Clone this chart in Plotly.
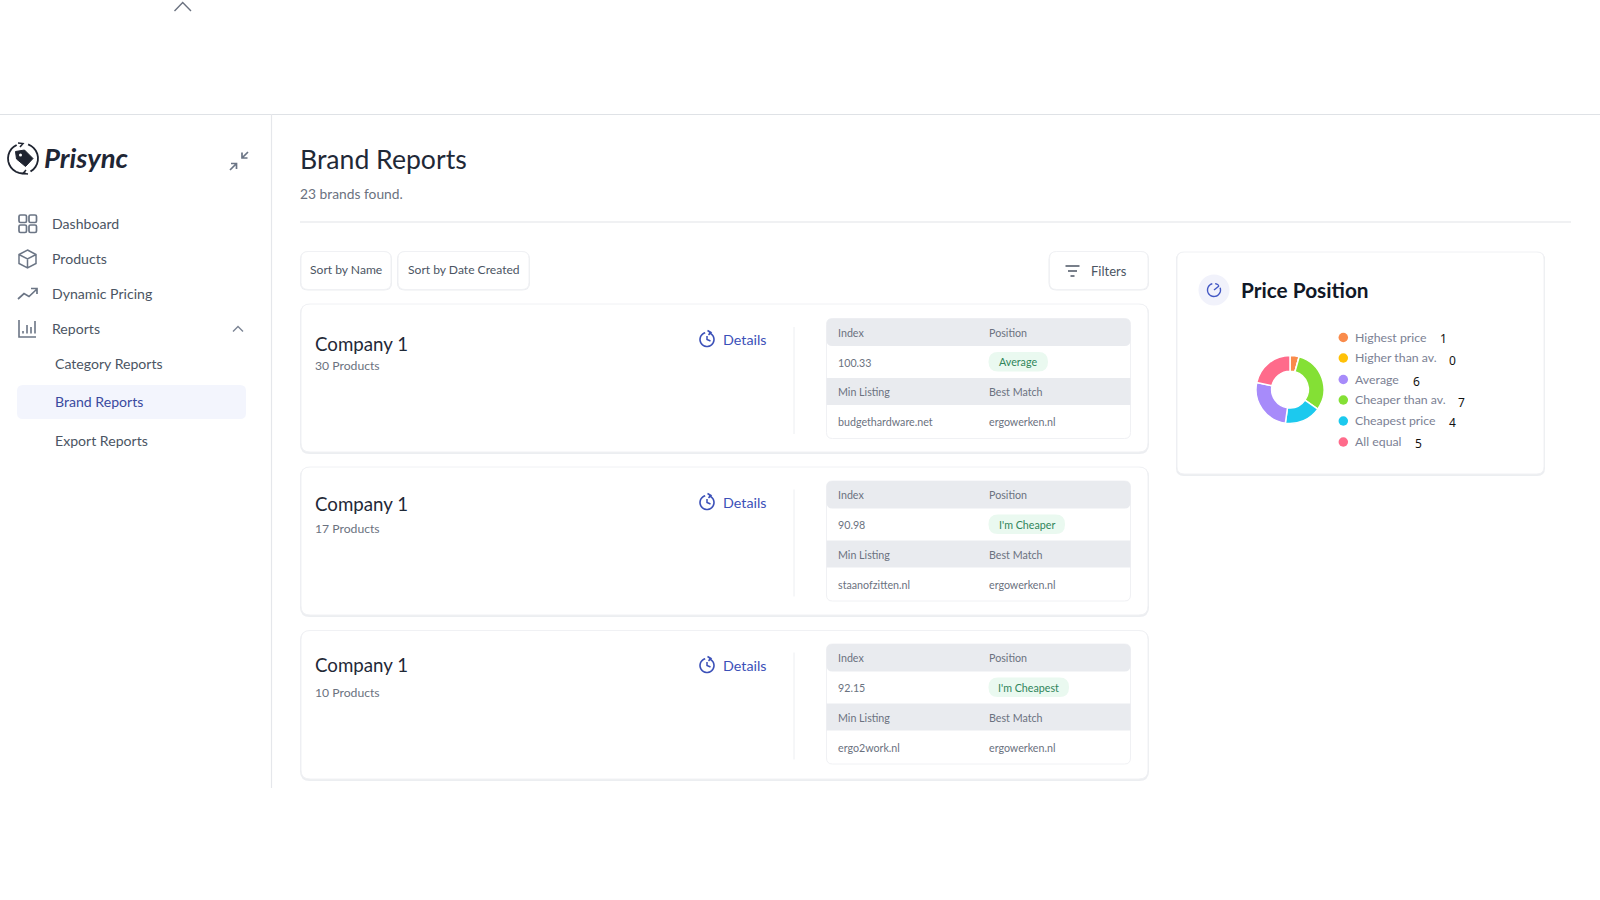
import math
import plotly.graph_objects as go

# ---- data ----
pie_labels = ["Highest price", "Higher than av.", "Cheaper than av.", "Cheapest price", "Average", "All equal"]
pie_values = [1, 0, 7, 4, 6, 5]
pie_colors = ["#F98B4B", "#FFC107", "#84E035", "#1CC9EE", "#A78BFA", "#FF6B8B"]
legend_labels = ["Highest price", "Higher than av.", "Average", "Cheaper than av.", "Cheapest price", "All equal"]
legend_counts = [1, 0, 6, 7, 4, 5]
legend_colors = ["#F98B4B", "#FFC107", "#A78BFA", "#84E035", "#1CC9EE", "#FF6B8B"]
nav_items = ["Dashboard", "Products", "Dynamic Pricing", "Reports"]
sub_items = ["Category Reports", "Brand Reports", "Export Reports"]
companies = ["Company 1", "Company 1", "Company 1"]
products = ["30 Products", "17 Products", "10 Products"]
indices = ["100.33", "90.98", "92.15"]
positions = ["Average", "I'm Cheaper", "I'm Cheapest"]
min_listings = ["budgethardware.net", "staanofzitten.nl", "ergo2work.nl"]
best_matches = ["ergowerken.nl", "ergowerken.nl", "ergowerken.nl"]

W, H = 1600, 900
FONT = "Lato"
shapes, notes = [], []


def text(x, y, s, size=14, color="#4B5563", anchor="left", family=FONT):
    notes.append(dict(x=x, y=y, text=s, showarrow=False, xanchor=anchor, yanchor="middle",
                      font=dict(size=size, color=color, family=family), borderpad=0, borderwidth=0))


def rr_path(x0, y0, x1, y1, r):
    return (f"M{x0+r},{y0} L{x1-r},{y0} Q{x1},{y0} {x1},{y0+r} L{x1},{y1-r} Q{x1},{y1} {x1-r},{y1} "
            f"L{x0+r},{y1} Q{x0},{y1} {x0},{y1-r} L{x0},{y0+r} Q{x0},{y0} {x0+r},{y0} Z")


def rrect(x0, y0, x1, y1, r=6, fill="white", line="rgba(0,0,0,0)", lw=1, opacity=1):
    shapes.append(dict(type="path", path=rr_path(x0, y0, x1, y1, r), fillcolor=fill,
                       line=dict(color=line, width=lw), opacity=opacity, layer="below"))


def path(d, color="#6B7280", lw=1.6, fill="rgba(0,0,0,0)"):
    shapes.append(dict(type="path", path=d, fillcolor=fill, line=dict(color=color, width=lw), layer="below"))


def arc(cx, cy, r, a0, a1):
    """Polyline arc; angles in degrees clockwise from 12 o'clock."""
    n = max(4, int(abs(a1 - a0) / 12))
    pts = []
    for k in range(n + 1):
        a = math.radians(a0 + (a1 - a0) * k / n)
        pts.append(f"{cx + r * math.sin(a):.2f},{cy - r * math.cos(a):.2f}")
    return "M" + " L".join(pts)


def hline(x0, x1, y, color="#E5E7EB", lw=1.2):
    shapes.append(dict(type="line", x0=x0, x1=x1, y0=y, y1=y, line=dict(color=color, width=lw), layer="below"))


def vline(x, y0, y1, color="#E5E7EB", lw=1.2):
    shapes.append(dict(type="line", x0=x, x1=x, y0=y0, y1=y1, line=dict(color=color, width=lw), layer="below"))


def circle(cx, cy, r, fill="rgba(0,0,0,0)", line="rgba(0,0,0,0)", lw=1.5):
    shapes.append(dict(type="circle", x0=cx-r, x1=cx+r, y0=cy-r, y1=cy+r, fillcolor=fill,
                       line=dict(color=line, width=lw), layer="below"))


def card(x0, y0, x1, y1, r=8, shadow=2):
    rrect(x0-1, y0, x1+1, y1+shadow, r+1, fill="#E8EAEE", opacity=0.8)
    rrect(x0, y0, x1, y1, r, fill="white", line="#F0F1F4", lw=1)


# ---- page frame ----
hline(0, W, 114.5, "#DFE2E6", 1.2)
vline(271.5, 114, 788, "#E5E7EB", 1.2)
path("M174.5,11 L182.7,2.5 L191,11", "#6B7280", 1.4)

# ---- sidebar ----
ICON = "#6B7585"
DARK = "#1F2430"
path(arc(23, 158.5, 15, 20, 150), DARK, 1.8)
path(arc(23, 158.5, 15, 170, 335), DARK, 1.8)
path("M18,143 L23,143.5 L20,147 M28,174 L23,173.5 L26,170", DARK, 1.5)
path("M15.5,151.5 L24.5,150 L33,158.5 L25.5,166.5 L16.5,159 Z", DARK, 1, DARK)
circle(20.5, 155, 1.5, fill="white")
text(44, 157.5, "<b><i>Prisync</i></b>", 27.5, "#1F2635")
path("M230,170 L236,164 M231,163.5 L236.5,163.5 L236.5,169 M248,152 L242,158 M242,152.5 L242,158 L247.5,158", ICON, 1.7)

for i, lab in enumerate(nav_items):
    text(52, 223.5 + i * 35, lab, 14.1, "#4B5563")
for (x, y) in [(19, 215), (29, 215), (19, 225), (29, 225)]:
    rrect(x, y, x + 7.5, y + 7.5, 1.5, fill="rgba(0,0,0,0)", line=ICON, lw=1.7)
path("M27.5,250 L36,254.5 L36,263.5 L27.5,268 L19,263.5 L19,254.5 Z M19,254.5 L27.5,259 L36,254.5 M27.5,259 L27.5,268", ICON, 1.5)
path("M18,299 L24,293.5 L29,296.5 L37,289 M31,288.5 L37,288.5 L37,294", ICON, 1.7)
path("M19,320 L19,337 L36,337 M23,333.5 L23,331 M27,333.5 L27,325 M31,333.5 L31,327 M35,333.5 L35,321", ICON, 1.6)
path("M233,331.5 L238,326.5 L243,331.5", "#7B8494", 1.4)

rrect(17, 385, 246, 419, 6, fill="#F3F5FD")
sub_y = [363.5, 401.5, 440.5]
sub_col = ["#4B5563", "#3A4A9F", "#4B5563"]
for s, y, c in zip(sub_items, sub_y, sub_col):
    text(55, y, s, 14.1, c)

# ---- header ----
text(300, 158.5, "Brand Reports", 26.6, "#1F2937")
text(300, 193.5, "23 brands found.", 13.8, "#6B7280")
hline(300, 1571, 222, "#E2E4E8", 1.2)

# ---- buttons ----
for x0, x1, lab, tx in [(301, 391, "Sort by Name", 310), (398, 529, "Sort by Date Created", 408)]:
    card(x0, 251.5, x1, 289.5, 7, 1)
    text(tx, 269, lab, 12.1, "#4B5563")
card(1049.5, 251.5, 1148, 289.5, 7, 1)
hline(1065.5, 1079.5, 266, "#4B5563", 1.5)
hline(1068, 1077, 271, "#4B5563", 1.5)
hline(1070.5, 1074.5, 276, "#4B5563", 1.5)
text(1090.5, 270.5, "Filters", 13, "#4B5563")

# ---- company cards ----
card_tops = [304, 467, 630.5]
card_bottoms = [452, 615, 779]
name_y = [343.5, 503.5, 664.5]
prod_y = [365, 528.5, 692]
det_y = [339.5, 502.5, 665.5]
table_off = [0, 162.5, 325.5]
BLUE = "#3B50B8"
pill_x1 = [1048, 1065, 1069]
for i in range(3):
    card(301, card_tops[i], 1148, card_bottoms[i], 9, 2)
    text(315, name_y[i], companies[i], 18.7, "#1F2937")
    text(315, prod_y[i], products[i], 12.2, "#6B7280")
    cy = det_y[i]
    path(arc(707, cy, 7, 15, 345), BLUE, 1.6)
    path(f"M707,{cy-3.5} L707,{cy} L710.5,{cy+1.5} M707.5,{cy-9} L711,{cy-7} L708.5,{cy-4.5}", BLUE, 1.5)
    text(722.5, cy, "Details", 14.3, BLUE)
    o = table_off[i]
    vline(794, 327 + o, 434 + o, "#ECEEF1", 1)
    rrect(826.5, 318.5 + o, 1130.5, 438.5 + o, 6, fill="white", line="#F0F1F4", lw=1)
    rrect(826.5, 318.5 + o, 1130.5, 346 + o, 6, fill="#E9EBEF")
    shapes.append(dict(type="rect", x0=826.5, x1=1130.5, y0=378 + o, y1=405 + o, fillcolor="#E9EBEF",
                       line=dict(width=0), layer="below"))
    text(838, 332 + o, "Index", 10.7, "#6B7280")
    text(989, 332 + o, "Position", 10.7, "#6B7280")
    text(838, 362 + o, indices[i], 10.7, "#6B7280")
    rrect(988.5, 352 + o, pill_x1[i], 371.5 + o, 9.5, fill="#EAF9F0")
    text((988.5 + pill_x1[i]) / 2, 361.5 + o, positions[i], 10.7, "#2F855A", anchor="center")
    text(838, 391.5 + o, "Min Listing", 10.7, "#6B7280")
    text(989, 391.5 + o, "Best Match", 10.7, "#6B7280")
    text(838, 421.5 + o, min_listings[i], 10.7, "#6B7280")
    text(989, 421.5 + o, best_matches[i], 10.7, "#6B7280")

# ---- price position card ----
card(1177, 252, 1544, 474, 7, 2)
circle(1214, 290, 15.5, fill="#F1F2FB")
path(arc(1214, 290, 6.5, 70, 345), "#4358C4", 1.4)
path("M1214,290 L1219,286", "#4358C4", 1.4)
path(arc(1214, 290, 6.5, 10, 50), "#4358C4", 1.2)
text(1241, 289.5, "<b>Price Position</b>", 20.8, "#111827")
leg_y = [337.5, 358, 379.5, 400, 421, 442]
num_x = [1443, 1452, 1416, 1461, 1452.5, 1418.5]
num_y = [338, 360, 381, 402, 422, 443]
for lab, cnt, y, nx, ny in zip(legend_labels, legend_counts, leg_y, num_x, num_y):
    text(1355, y - 0.5, lab, 12.3, "#7B8194")
    text(nx, ny, str(cnt), 12, "#111111", anchor="center", family="Noto Sans")

fig = go.Figure()
fig.add_trace(go.Scatter(x=[1343.3] * 6, y=leg_y, mode="markers", hoverinfo="skip", showlegend=False,
                         marker=dict(size=9.5, color=legend_colors, line=dict(width=0))))
cx, cy, R = 1290, 389.5, 34
fig.add_trace(go.Pie(labels=pie_labels, values=pie_values, sort=False, direction="clockwise", rotation=0,
                     hole=0.54, textinfo="none", hoverinfo="label+value", showlegend=False,
                     marker=dict(colors=pie_colors, line=dict(color="white", width=1.5)),
                     domain=dict(x=[(cx - R) / W, (cx + R) / W], y=[1 - (cy + R) / H, 1 - (cy - R) / H])))
fig.update_layout(width=W, height=H, margin=dict(l=0, r=0, t=0, b=0), paper_bgcolor="white",
                  plot_bgcolor="white", shapes=shapes, annotations=notes, showlegend=False,
                  font=dict(family=FONT),
                  xaxis=dict(range=[0, W], visible=False, fixedrange=True),
                  yaxis=dict(range=[H, 0], visible=False, fixedrange=True))
fig.write_html("out.html", config=dict(displayModeBar=False),
               post_script="document.body.style.margin='0';document.body.style.overflow='hidden';")
